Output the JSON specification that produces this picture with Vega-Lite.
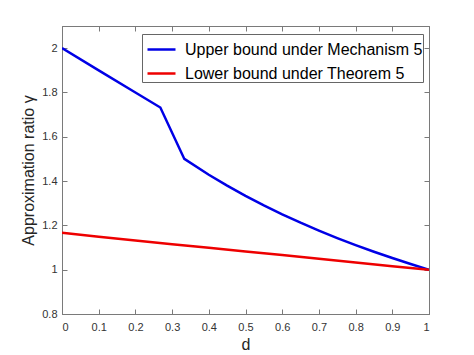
{
  "$schema": "https://vega.github.io/schema/vega-lite/v6.json",
  "width": 367,
  "height": 288,
  "autosize": "none",
  "padding": {"left": 62, "top": 26, "right": 45, "bottom": 41},
  "background": "white",
  "config": {
    "font": "Liberation Sans",
    "view": {"stroke": "#7a7a7a", "strokeWidth": 1},
    "axis": {
      "grid": false,
      "domainColor": "#7a7a7a",
      "tickColor": "#7a7a7a",
      "tickSize": -5,
      "labelColor": "#333333",
      "labelFontSize": 11,
      "titleColor": "#262626",
      "titleFontSize": 16,
      "titleFontWeight": "normal"
    }
  },
  "data": {
    "values": [
      {"d": 0, "gamma": 2.0, "series": "Upper bound under Mechanism 5"},
      {"d": 0.1, "gamma": 1.9, "series": "Upper bound under Mechanism 5"},
      {"d": 0.2, "gamma": 1.8, "series": "Upper bound under Mechanism 5"},
      {"d": 0.268, "gamma": 1.732, "series": "Upper bound under Mechanism 5"},
      {"d": 0.3333, "gamma": 1.5, "series": "Upper bound under Mechanism 5"},
      {"d": 0.4, "gamma": 1.4286, "series": "Upper bound under Mechanism 5"},
      {"d": 0.45, "gamma": 1.3793, "series": "Upper bound under Mechanism 5"},
      {"d": 0.5, "gamma": 1.3333, "series": "Upper bound under Mechanism 5"},
      {"d": 0.55, "gamma": 1.2903, "series": "Upper bound under Mechanism 5"},
      {"d": 0.6, "gamma": 1.25, "series": "Upper bound under Mechanism 5"},
      {"d": 0.65, "gamma": 1.2121, "series": "Upper bound under Mechanism 5"},
      {"d": 0.7, "gamma": 1.1765, "series": "Upper bound under Mechanism 5"},
      {"d": 0.75, "gamma": 1.1429, "series": "Upper bound under Mechanism 5"},
      {"d": 0.8, "gamma": 1.1111, "series": "Upper bound under Mechanism 5"},
      {"d": 0.85, "gamma": 1.0811, "series": "Upper bound under Mechanism 5"},
      {"d": 0.9, "gamma": 1.0526, "series": "Upper bound under Mechanism 5"},
      {"d": 0.95, "gamma": 1.0256, "series": "Upper bound under Mechanism 5"},
      {"d": 1.0, "gamma": 1.0, "series": "Upper bound under Mechanism 5"},
      {"d": 0, "gamma": 1.1667, "series": "Lower bound under Theorem 5"},
      {"d": 0.1, "gamma": 1.149, "series": "Lower bound under Theorem 5"},
      {"d": 0.2, "gamma": 1.132, "series": "Lower bound under Theorem 5"},
      {"d": 0.3, "gamma": 1.115, "series": "Lower bound under Theorem 5"},
      {"d": 0.4, "gamma": 1.099, "series": "Lower bound under Theorem 5"},
      {"d": 0.5, "gamma": 1.082, "series": "Lower bound under Theorem 5"},
      {"d": 0.6, "gamma": 1.066, "series": "Lower bound under Theorem 5"},
      {"d": 0.7, "gamma": 1.049, "series": "Lower bound under Theorem 5"},
      {"d": 0.8, "gamma": 1.033, "series": "Lower bound under Theorem 5"},
      {"d": 0.9, "gamma": 1.016, "series": "Lower bound under Theorem 5"},
      {"d": 1.0, "gamma": 1.0, "series": "Lower bound under Theorem 5"}
    ]
  },
  "layer": [
    {
      "mark": {"type": "line", "strokeWidth": 2.5, "clip": true},
      "encoding": {
        "x": {
          "field": "d", "type": "quantitative",
          "scale": {"domain": [0, 1], "nice": false, "zero": false},
          "axis": {"values": [0, 0.1, 0.2, 0.3, 0.4, 0.5, 0.6, 0.7, 0.8, 0.9, 1], "format": "~g", "labelPadding": 12, "title": "d", "titlePadding": 4}
        },
        "y": {
          "field": "gamma", "type": "quantitative",
          "scale": {"domain": [0.8, 2.1], "nice": false, "zero": false},
          "axis": {"values": [0.8, 1, 1.2, 1.4, 1.6, 1.8, 2], "format": "~g", "labelPadding": 10, "title": "Approximation ratio γ", "titlePadding": 5}
        },
        "color": {
          "field": "series", "type": "nominal",
          "scale": {"domain": ["Upper bound under Mechanism 5", "Lower bound under Theorem 5"], "range": ["#0000e6", "#ee0000"]},
          "legend": {
            "title": null,
            "orient": "none",
            "legendX": 80,
            "legendY": 8,
            "symbolType": "stroke",
            "symbolSize": 784,
            "symbolOffset": 4,
            "symbolStrokeWidth": 2.5,
            "labelFontSize": 16,
            "labelLimit": 0,
            "labelColor": "#000000",
            "labelOffset": 8,
            "padding": 0,
            "rowPadding": -7,
            "strokeColor": "#666666",
            "fillColor": "white"
          }
        }
      }
    },
    {
      "mark": {"type": "line", "opacity": 0},
      "encoding": {
        "x": {"field": "d", "type": "quantitative", "axis": {"orient": "top", "values": [0, 0.1, 0.2, 0.3, 0.4, 0.5, 0.6, 0.7, 0.8, 0.9, 1], "labels": false, "title": null}},
        "y": {"field": "gamma", "type": "quantitative", "axis": {"orient": "right", "values": [0.8, 1, 1.2, 1.4, 1.6, 1.8, 2], "labels": false, "title": null}},
        "detail": {"field": "series"}
      }
    }
  ],
  "resolve": {"axis": {"x": "independent", "y": "independent"}}
}
